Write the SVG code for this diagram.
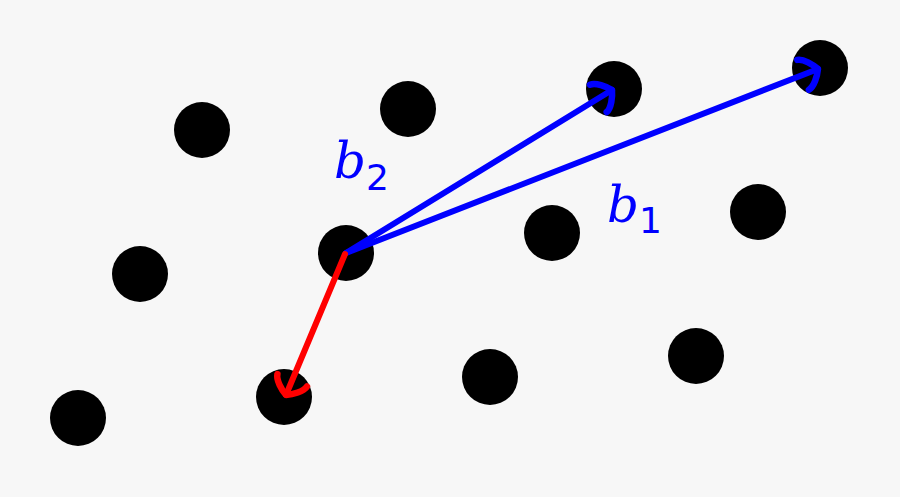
<svg xmlns="http://www.w3.org/2000/svg" width="900" height="497" viewBox="0 0 900 497">
<style>
.dot{fill:#000}
.vec{fill:none;stroke-width:6;stroke-linecap:round}
.lbl{font-family:"DejaVu Sans",sans-serif;fill:#0000ff}
.it{font-family:"DejaVu Serif",serif;font-style:italic}
</style>
<defs>
<marker id="ab" markerUnits="userSpaceOnUse" viewBox="-20 -20 26 40" refX="0" refY="0" markerWidth="26" markerHeight="40" orient="auto" overflow="visible">
<path d="M -16,-16 C -10,-15 -3,-6 0,0 C -3,6 -10,15 -16,16" fill="none" stroke="#0000ff" stroke-width="6.5" stroke-linecap="round" stroke-linejoin="round"/>
</marker>
<marker id="ar" markerUnits="userSpaceOnUse" viewBox="-20 -20 26 40" refX="0" refY="0" markerWidth="26" markerHeight="40" orient="auto" overflow="visible">
<path d="M -16,-16 C -10,-15 -3,-6 0,0 C -3,6 -10,15 -16,16" fill="none" stroke="#ff0000" stroke-width="6.5" stroke-linecap="round" stroke-linejoin="round"/>
</marker>
</defs>
<rect width="900" height="497" fill="#f7f7f7"/>
<g id="p1"><circle class="dot" cx="202" cy="130" r="28"/></g>
<g id="p2"><circle class="dot" cx="408" cy="109" r="28"/></g>
<g id="p3"><circle class="dot" cx="614" cy="89" r="28"/></g>
<g id="p4"><circle class="dot" cx="820" cy="68" r="28"/></g>
<g id="p5"><circle class="dot" cx="140" cy="274" r="28"/></g>
<g id="p6"><circle class="dot" cx="346" cy="253" r="28"/></g>
<g id="p7"><circle class="dot" cx="552" cy="233" r="28"/></g>
<g id="p8"><circle class="dot" cx="758" cy="212" r="28"/></g>
<g id="p9"><circle class="dot" cx="78" cy="418" r="28"/></g>
<g id="p10"><circle class="dot" cx="284" cy="397" r="28"/></g>
<g id="p11"><circle class="dot" cx="490" cy="377" r="28"/></g>
<g id="p12"><circle class="dot" cx="696" cy="356" r="28"/></g>
<g id="connectors">
<path class="vec" stroke="#0000ff" d="M 346,253 L 612,90" marker-end="url(#ab)"/>
<path class="vec" stroke="#0000ff" d="M 346,253 L 818,69" marker-end="url(#ab)"/>
<path class="vec" stroke="#ff0000" d="M 345,254 L 286,395" marker-end="url(#ar)"/>
</g>
<g id="label-b2"><text class="lbl" x="334" y="178" font-size="50"><tspan class="it">b</tspan><tspan font-size="36" dy="12">2</tspan></text></g>
<g id="label-b1"><text class="lbl" x="607" y="222" font-size="50"><tspan class="it">b</tspan><tspan font-size="36" dy="11">1</tspan></text></g>
</svg>
